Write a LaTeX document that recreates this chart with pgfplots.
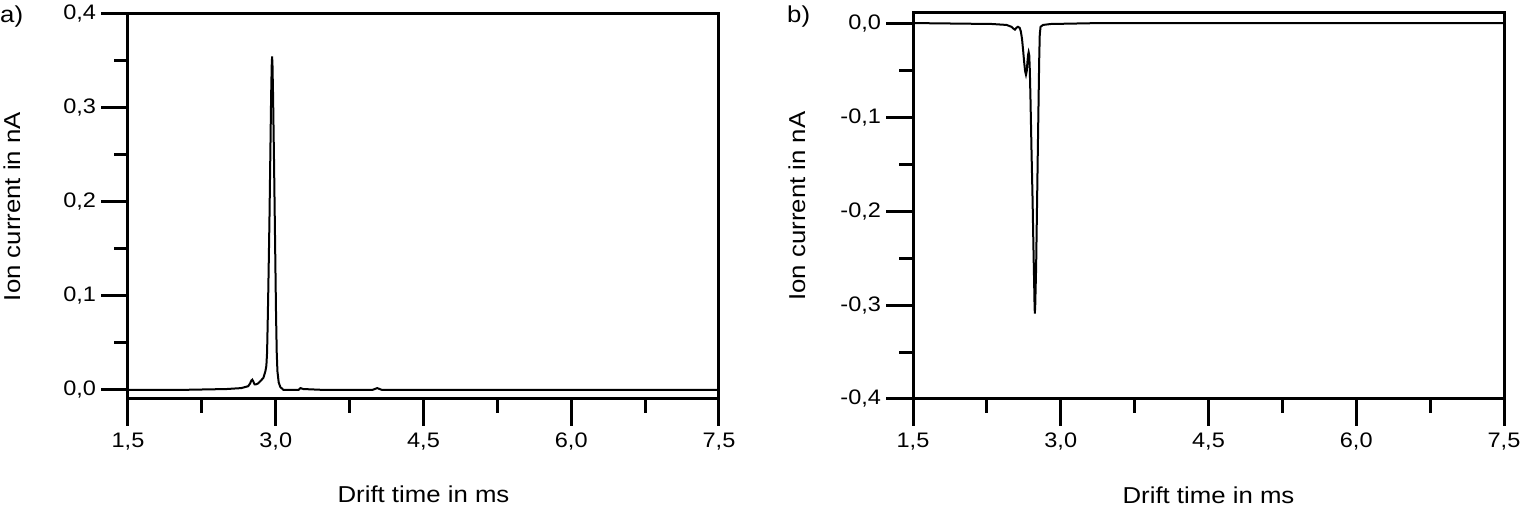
\documentclass[border=0pt]{standalone}
\usepackage{fontspec}
\setmainfont[FakeStretch=1.12]{Liberation Sans}
\usepackage{pgfplots}
\pgfplotsset{compat=1.18}

% shared look of both panels (1pt = 1px of the reference)
\pgfplotsset{
  drift/.style={
    scale only axis, width=591pt,
    xmin=1.5, xmax=7.5,
    xtick={1.5,3,4.5,6,7.5}, minor xtick={2.25,3.75,5.25,6.75},
    tick align=outside, tick pos=left,
    major tick length=27pt, minor tick length=14pt,
    every tick/.style={black, line width=3pt},
    axis line style={line width=3pt},
    ticklabel style={font=\fontsize{21}{25}\selectfont},
    xticklabel style={yshift=-3.5pt},
    yticklabel style={xshift=-1.5pt},
    xlabel={Drift time in ms},
    ylabel={Ion current in nA},
    every axis x label/.style={at={(axis description cs:0.5,-0.2701)}, anchor=base,
      font=\fontsize{23}{27}\selectfont},
    every axis y label/.style={at={(axis description cs:-0.1827,0.5)}, rotate=90, anchor=base,
      font=\fontsize{23}{27}\selectfont},
    /pgf/number format/.cd, use comma, fixed, fixed zerofill, precision=1, assume math mode=true,
  },
}

\begin{document}
\begin{tikzpicture}[x=1pt,y=1pt]
\path[use as bounding box] (0,0) rectangle (1524,506);

% a) positive ion mode
\begin{axis}[drift, at={(128pt,107pt)}, anchor=south west,
  height=385pt, ymin=-0.0096, ymax=0.4,
  ytick={0,0.1,0.2,0.3,0.4}, minor ytick={0.05,0.15,0.25,0.35}]
\addplot[black, line width=2pt] coordinates {
  (1.5,0.000) (2.0,0.000) (2.5,0.001) (2.65,0.002) (2.72,0.004)
  (2.74,0.007) (2.752,0.010) (2.762,0.011) (2.772,0.009) (2.785,0.006)
  (2.80,0.006) (2.82,0.007) (2.85,0.010) (2.875,0.013) (2.895,0.020)
  (2.905,0.026) (2.912,0.040) (2.918,0.070) (2.925,0.110) (2.936,0.180)
  (2.945,0.250) (2.953,0.312) (2.959,0.345) (2.963,0.355) (2.967,0.345)
  (2.973,0.312) (2.983,0.240) (2.993,0.160) (3.003,0.080) (3.010,0.040)
  (3.017,0.020) (3.03,0.008) (3.047,0.003) (3.08,0.000)
  (3.23,0.000) (3.25,0.002) (3.28,0.001) (3.5,0.000) (3.98,0.000)
  (4.03,0.002) (4.08,0.000) (7.5,0.000)
};
\end{axis}

% b) negative ion mode
\begin{axis}[drift, at={(913pt,107pt)}, anchor=south west,
  height=386pt, ymin=-0.4, ymax=0.0107,
  ytick={-0.4,-0.3,-0.2,-0.1,0}, minor ytick={-0.35,-0.25,-0.15,-0.05}]
\addplot[black, line width=2pt] coordinates {
  (1.5,0.000) (2.3,-0.001) (2.45,-0.002) (2.50,-0.004) (2.52,-0.006)
  (2.535,-0.007) (2.55,-0.005) (2.565,-0.004) (2.583,-0.005) (2.595,-0.009)
  (2.607,-0.017) (2.618,-0.029) (2.628,-0.041) (2.638,-0.051) (2.647,-0.055)
  (2.655,-0.051) (2.662,-0.041) (2.668,-0.034) (2.674,-0.031) (2.680,-0.034)
  (2.686,-0.050) (2.693,-0.082) (2.703,-0.135) (2.714,-0.188) (2.722,-0.235)
  (2.73,-0.277) (2.734,-0.300) (2.737,-0.309) (2.741,-0.300) (2.75,-0.260)
  (2.76,-0.188) (2.768,-0.130) (2.775,-0.082) (2.781,-0.040) (2.787,-0.012)
  (2.795,-0.004) (2.82,-0.002) (2.9,-0.001) (3.4,0.000) (7.5,0.000)
};
\end{axis}

\node[anchor=base west, inner sep=0pt, font=\fontsize{23}{27}\selectfont] at (0,483) {a)};
\node[anchor=base west, inner sep=0pt, font=\fontsize{23}{27}\selectfont] at (787,483) {b)};
\end{tikzpicture}
\end{document}
